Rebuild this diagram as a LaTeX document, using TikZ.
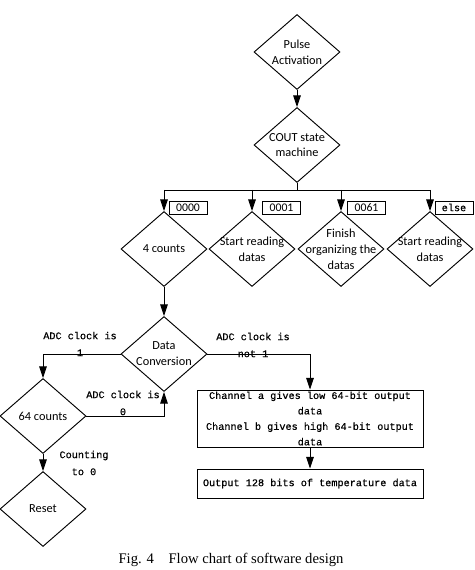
\documentclass[tikz,border=0pt]{standalone}
\usepackage{fontspec}
\setmainfont{Liberation Serif}
\setmonofont{Liberation Mono}[FakeBold=0.6]
\newfontfamily\carlito{Carlito}
\usetikzlibrary{shapes.geometric,arrows.meta}

\begin{document}
\begin{tikzpicture}[x=0.03cm, y=-0.03cm, line width=0.8pt,
  decision/.style={diamond, draw, minimum width=2.58cm, minimum height=2.25cm, inner sep=0pt},
  dtext/.style={font=\carlito\fontsize{10.5}{13.5}\selectfont, align=center},
  process/.style={rectangle, draw, minimum width=6.78cm, inner sep=0pt, font=\ttfamily\fontsize{8.7}{13.2}\selectfont, align=center},
  tag/.style={rectangle, draw, line width=0.6pt, minimum width=1.14cm, minimum height=0.39cm, inner sep=0pt},
  cond/.style={font=\ttfamily\fontsize{8.7}{14.5}\selectfont, align=center},
  flow/.style={-{Triangle[length=3.5mm,width=2.3mm]}}]

\useasboundingbox (0,0) rectangle (474,570);

% Define decision nodes
\node[decision, label={[dtext]center:{Pulse\\Activation}}] (pulse) at (297,52) {};
\node[decision, label={[dtext]center:{COUT state\\machine}}] (cout) at (297,145) {};
\node[decision, label={[dtext]center:{4 counts}}] (cnt4) at (164,249) {};
\node[decision, label={[dtext]center:{Start reading\\datas}}] (read1) at (252,249) {};
\node[decision, label={[dtext]center:{Finish\\organizing the\\datas}}] (finish) at (341,249) {};
\node[decision, label={[dtext]center:{Start reading\\datas}}] (read2) at (430,249) {};
\node[decision, label={[dtext]center:{Data\\Conversion}}] (conv) at (164,354) {};
\node[decision, label={[dtext]center:{64 counts}}] (cnt64) at (43,416) {};
\node[decision, label={[dtext]center:{Reset}}] (reset) at (43,509) {};

% Define process boxes
\node[process, minimum height=1.71cm] (chan) at (310,418.5) {Channel a gives low 64-bit output\\data\\Channel b gives high 64-bit output\\data};
\node[process, minimum height=0.87cm] (outp) at (310,483.5) {Output 128 bits of temperature data};

% Case tags
\node[tag, font=\carlito\fontsize{10}{11}\selectfont] (t0000) at (188,207.5) {0000};
\node[tag, font=\carlito\fontsize{10}{11}\selectfont] (t0001) at (281.5,207.5) {0001};
\node[tag, font=\carlito\fontsize{10}{11}\selectfont] (t0061) at (366.5,207.5) {0061};
\node[tag, font=\ttfamily\fontsize{8.7}{10}\selectfont] (telse) at (454,207.5) {else};

% Bus coordinates
\coordinate (busM) at (297,190);
\coordinate (bus1) at (164,190);
\coordinate (bus2) at (252,190);
\coordinate (bus3) at (341,190);
\coordinate (bus4) at (430,190);

% Draw connectors
\draw[flow] (pulse) -- (cout);
\draw (cout.south) -- (busM);
\draw (bus1) -- (bus4);
\draw[flow] (bus1) -- (cnt4.north);
\draw[flow] (bus2) -- (read1.north);
\draw[flow] (bus3) -- (finish.north);
\draw[flow] (bus4) -- (read2.north);
\draw[flow] (cnt4) -- (conv);
\draw[flow] (conv.west) -| (cnt64.north);
\draw[flow] (cnt64.east) -| (conv.south);
\draw[flow] (cnt64) -- (reset);
\draw[flow] (conv.east) -| (chan.north);
\draw[flow] (chan) -- (outp);

% Condition labels
\node[cond] (l1) at (80,344) {ADC clock is\\1};
\node[cond] (l0) at (123,403) {ADC clock is\\0};
\node[cond] (lz) at (84,463) {Counting\\to 0};
\node[cond] (ln1) at (253,345) {ADC clock is\\not 1};

% Caption
\node[font=\fontsize{12.5}{14}\selectfont] (cap) at (231,560) {Fig. 4\quad Flow chart of software design};

\end{tikzpicture}
\end{document}
